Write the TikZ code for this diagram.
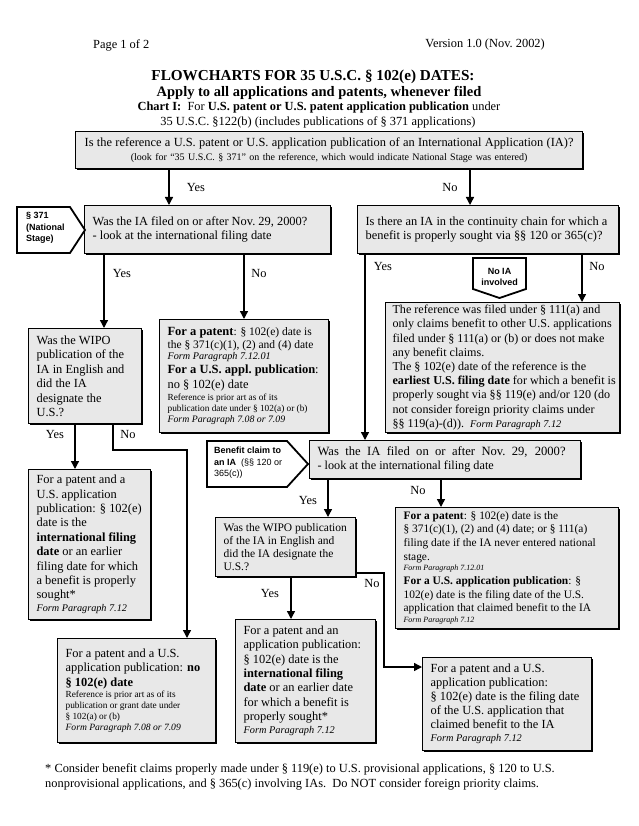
\documentclass[tikz,border=0pt]{standalone}
\usepackage{fontspec}
\setmainfont{Liberation Serif}
\setsansfont{Liberation Sans}
\usetikzlibrary{arrows.meta,shadows}
\setlength{\parindent}{0pt}
\setlength{\parskip}{0pt}
\newcommand{\fsz}[2]{\fontsize{#1}{#2}\selectfont}
\newcommand{\myl}[3]{{\fontsize{#1}{#2}\selectfont\mbox{#3}\par}}
\begin{document}
\begin{tikzpicture}[x=1pt,y=-1pt,
  box/.style={draw=black, line width=1.2pt, fill=black!9,
    drop shadow={shadow xshift=1.6pt,shadow yshift=-1.6pt,fill=black,opacity=1},
    anchor=north west, inner ysep=0pt, align=flush left},
  arr/.style={line width=1.4pt, -{Triangle[length=8pt,width=8pt]}},
  lbl/.style={font=\fsz{12.4}{14}, inner sep=0pt},
  tag/.style={draw=black, line width=1.8pt, fill=white, line join=miter},
  tagtxt/.style={font=\sffamily\bfseries\fsz{9}{11.5}, inner sep=0pt, align=left}]
\useasboundingbox[fill=white] (0,0) rectangle (638,826);

% header
\node[anchor=west, font=\fsz{12.4}{14}, inner sep=0pt] (pg) at (93,45) {Page 1 of 2};
\node[anchor=east, font=\fsz{12.4}{14}, inner sep=0pt] (ver) at (545,45) {Version 1.0 (Nov.\ 2002)};
\node[font=\bfseries\fsz{15.2}{17}, inner sep=0pt] (t1) at (313,77) {FLOWCHARTS FOR 35 U.S.C. § 102(e) DATES:};
\node[font=\bfseries\fsz{14.5}{16}, inner sep=0pt] (t2) at (319,93) {Apply to all applications and patents, whenever filed};
\node[font=\fsz{12.4}{14}, inner sep=0pt] (t3) at (319,108) {\textbf{Chart I:}\ \ For \textbf{U.S. patent or U.S. patent application publication} under};
\node[font=\fsz{12.4}{14}, inner sep=0pt] (t4) at (318,122) {35 U.S.C. §122(b) (includes publications of § 371 applications)};

% boxes
\node[box, align=center, minimum width=507, minimum height=37, text width=501, inner xsep=3] (top) at (75,131)
 {\myl{12.4}{14}{Is the reference a U.S. patent or U.S. application publication of an International Application (IA)?}\myl{10}{14.5}{(look for “35 U.S.C. § 371” on the reference, which would indicate National Stage was entered)}};

\node[box, minimum width=246, minimum height=48, text width=230, inner xsep=8] (A) at (84,205)
 {\myl{12.4}{14}{Was the IA filed on or after Nov.\ 29, 2000?}\myl{12.4}{14}{- look at the international filing date}};

\node[box, minimum width=261, minimum height=48, text width=245, inner xsep=8] (B) at (357,205)
 {\myl{12.4}{14}{Is there an IA in the continuity chain for which a}\myl{12.4}{14}{benefit is properly sought via §§ 120 or 365(c)?}};

\node[box, minimum width=113, minimum height=95, text width=97, inner xsep=8] (W1) at (28,328)
 {\myl{12.4}{14.5}{Was the WIPO}\myl{12.4}{14.5}{publication of the}\myl{12.4}{14.5}{IA in English and}\myl{12.4}{14.5}{did the IA}\myl{12.4}{14.5}{designate the}\myl{12.4}{14.5}{U.S.?}};

\node[box, minimum width=169, minimum height=113, text width=153, inner xsep=8] (C) at (159,319)
 {\myl{11.5}{13}{{\fsz{12.5}{13}\bfseries For a patent}: § 102(e) date is}%
  \myl{11.5}{13}{the § 371(c)(1), (2) and (4) date}%
  \myl{10.2}{11}{\itshape Form Paragraph 7.12.01}%
  \myl{12.5}{14}{{\bfseries For a U.S. appl.\ publication}:}%
  \myl{12.4}{15}{no § 102(e) date}%
  \myl{9.3}{11.5}{Reference is prior art as of its}%
  \myl{9.3}{11}{publication date under § 102(a) or (b)}%
  \myl{9.8}{11}{\itshape Form Paragraph 7.08 or 7.09}};

\node[box, minimum width=234, minimum height=130, text width=220, inner xsep=7] (D) at (385,302)
 {\myl{12.1}{14.2}{The reference was filed under § 111(a) and}%
  \myl{12.1}{14.2}{only claims benefit to other U.S. applications}%
  \myl{12.1}{14.2}{filed under § 111(a) or (b) or does not make}%
  \myl{12.1}{14.2}{any benefit claims.}%
  \myl{12.1}{14.2}{The § 102(e) date of the reference is the}%
  \myl{12.1}{14.2}{\textbf{earliest U.S. filing date} for which a benefit is}%
  \myl{12.1}{14.2}{properly sought via §§ 119(e) and/or 120 (do}%
  \myl{12.1}{14.2}{not consider foreign priority claims under}%
  \myl{12.1}{14.2}{§§ 119(a)-(d)).\ \ {\fsz{10.3}{14}\itshape Form Paragraph 7.12}}};

\node[box, minimum width=271, minimum height=38, text width=255, inner xsep=8] (E) at (309,440)
 {\myl{12.6}{14}{\makebox[248pt][s]{Was the IA filed on or after Nov.\ 29, 2000?}}\myl{12.2}{14}{- look at the international filing date}};

\node[box, minimum width=140, minimum height=59, text width=124, inner xsep=8] (F) at (215,517)
 {\myl{11.5}{13.3}{Was the WIPO publication}\myl{11.5}{13.3}{of the IA in English and}\myl{11.5}{13.3}{did the IA designate the}\myl{11.5}{13.3}{U.S.?}};

\node[box, minimum width=223, minimum height=121, text width=207, inner xsep=8] (G) at (395,507)
 {\myl{11.4}{12.5}{\textbf{For a patent}: § 102(e) date is the}%
  \myl{11.4}{13}{§ 371(c)(1), (2) and (4) date; or § 111(a)}%
  \myl{11.4}{14}{filing date if the IA never entered national}%
  \myl{11.4}{13.4}{stage.}%
  \myl{8}{10.5}{\itshape Form Paragraph 7.12.01}%
  \myl{11.4}{14}{\textbf{For a U.S. application publication}: §}%
  \myl{11.4}{14}{102(e) date is the filing date of the U.S.}%
  \myl{11.4}{13.3}{application that claimed benefit to the IA}%
  \myl{8}{11}{\itshape Form Paragraph 7.12}};

\node[box, minimum width=122, minimum height=150, text width=106, inner xsep=8] (K) at (28,469)
 {\myl{12.4}{14.4}{For a patent and a}%
  \myl{12.4}{14.4}{U.S. application}%
  \myl{12.4}{14.4}{publication: § 102(e)}%
  \myl{12.4}{14.4}{date is the}%
  \myl{12.4}{14.4}{\textbf{international filing}}%
  \myl{12.4}{14.4}{\textbf{date} or an earlier}%
  \myl{12.4}{14.4}{filing date for which}%
  \myl{12.4}{14.4}{a benefit is properly}%
  \myl{12.4}{14.4}{sought*}%
  \myl{10.2}{13}{\itshape Form Paragraph 7.12}};

\node[box, minimum width=158, minimum height=104, text width=142, inner xsep=8] (J) at (57,638)
 {\myl{12.4}{14.5}{For a patent and a U.S.}%
  \myl{12.4}{14.5}{application publication: \textbf{no}}%
  \myl{12.4}{14.5}{\textbf{§ 102(e) date}}%
  \myl{9.3}{11.5}{Reference is prior art as of its}%
  \myl{9.3}{11}{publication or grant date under}%
  \myl{9.3}{11}{§ 102(a) or (b)}%
  \myl{9.6}{11}{\itshape Form Paragraph 7.08 or 7.09}};

\node[box, minimum width=140, minimum height=123, text width=124, inner xsep=8] (I) at (235,619)
 {\myl{12.4}{14.3}{For a patent and an}%
  \myl{12.4}{14.3}{application publication:}%
  \myl{12.4}{14.3}{§ 102(e) date is the}%
  \myl{12.4}{14.3}{\textbf{international filing}}%
  \myl{12.4}{14.3}{\textbf{date} or an earlier date}%
  \myl{12.4}{14.3}{for which a benefit is}%
  \myl{12.4}{14.3}{properly sought*}%
  \myl{10.3}{13.5}{\itshape Form Paragraph 7.12}};

\node[box, minimum width=169, minimum height=93, text width=153, inner xsep=8] (H) at (422,657)
 {\myl{12.4}{14}{For a patent and a U.S.}%
  \myl{12.4}{14}{application publication:}%
  \myl{12.4}{14}{§ 102(e) date is the filing date}%
  \myl{12.4}{14}{of the U.S. application that}%
  \myl{12.4}{14}{claimed benefit to the IA}%
  \myl{10.3}{13}{\itshape Form Paragraph 7.12}};

% tags
\draw[tag] (17,207) -- (70,207) -- (85,230) -- (70,253) -- (17,253) -- cycle;
\node[tagtxt, anchor=west] (tg1) at (26,228) {§ 371\\(National\\Stage)};
\draw[tag] (473,258) -- (526,258) -- (526,289) -- (499.5,298) -- (473,289) -- cycle;
\node[tagtxt, align=center] (tg2) at (499.5,277) {No IA\\involved};
\draw[tag] (207,441) -- (287,441) -- (308,464) -- (287,487) -- (207,487) -- cycle;
\node[tagtxt, anchor=west] (tg3) at (214,463) {Benefit claim to\\an IA \ {\mdseries(§§ 120 or}\\{\mdseries 365(c))}};

% connector x positions
\coordinate (x169) at (169,0);
\coordinate (x470) at (470,0);
\coordinate (x104) at (104,0);
\coordinate (x244) at (244,0);
\coordinate (x365) at (365,0);
\coordinate (x582) at (582,0);
\coordinate (x75) at (75,0);
\coordinate (p1) at (113,450);
\coordinate (p2) at (187,450);
\coordinate (x328) at (328,0);
\coordinate (x441) at (441,0);
\coordinate (x291) at (291,0);
\coordinate (q1) at (384,573);
\coordinate (q2) at (384,667);

\draw[arr] (top.south -| x169) -- (A.north -| x169);
\draw[arr] (top.south -| x470) -- (B.north -| x470);
\draw[arr] (A.south -| x104) -- (W1.north -| x104);
\draw[arr] (A.south -| x244) -- (C.north -| x244);
\draw[arr] (B.south -| x365) -- (E.north -| x365);
\draw[arr] (B.south -| x582) -- (D.north -| x582);
\draw[arr] (W1.south -| x75) -- (K.north -| x75);
\draw[arr] (W1.south -| p1) -- (p1) -- (p2) -- (J.north -| p2);
\draw[arr] (E.south -| x328) -- (F.north -| x328);
\draw[arr] (E.south -| x441) -- (G.north -| x441);
\draw[arr] (q1 -| F.east) -- (q1) -- (q2) -- (q2 -| H.west);
\draw[arr] (F.south -| x291) -- (I.north -| x291);

% labels
\node[lbl] (l1) at (196,188) {Yes};
\node[lbl] (l2) at (450,188) {No};
\node[lbl] (l3) at (122,273) {Yes};
\node[lbl] (l4) at (259,273) {No};
\node[lbl] (l5) at (383,266) {Yes};
\node[lbl] (l6) at (597,266) {No};
\node[lbl] (l7) at (55,434) {Yes};
\node[lbl] (l8) at (128,434) {No};
\node[lbl] (l9) at (308,500) {Yes};
\node[lbl] (l10) at (418,490) {No};
\node[lbl] (l11) at (372,583) {No};
\node[lbl] (l12) at (270,593) {Yes};

% footnote
\node[anchor=north west, inner sep=0pt, text width=590, align=flush left] (fn) at (45,764)
 {\myl{12.4}{15}{* Consider benefit claims properly made under § 119(e) to U.S. provisional applications, § 120 to U.S.}%
  \myl{12.4}{15}{nonprovisional applications, and § 365(c) involving IAs.\ \ Do NOT consider foreign priority claims.}};
\end{tikzpicture}
\end{document}
